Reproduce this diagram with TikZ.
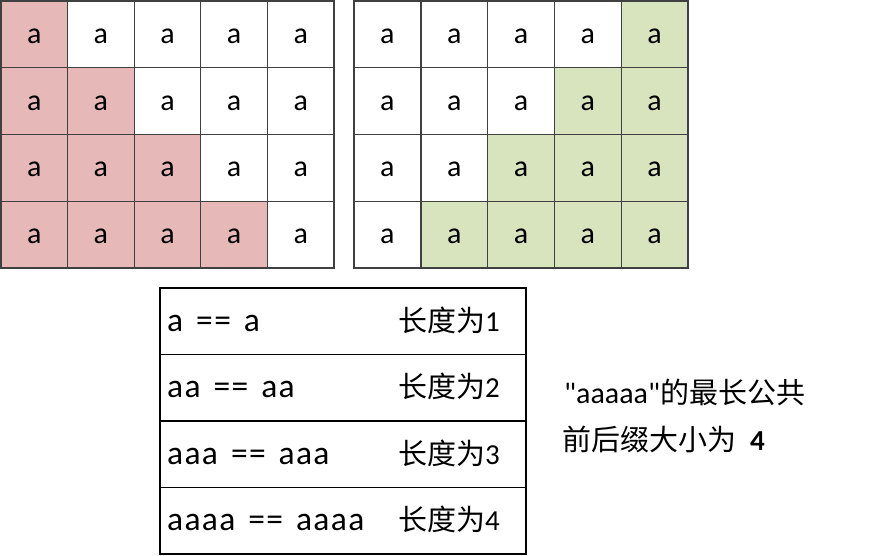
\documentclass[tikz,border=0pt]{standalone}
\usepackage{fontspec}
\setmainfont{Carlito}[Ligatures=TeXOff]
\newfontfamily\widefont{Carlito}[Ligatures=TeXOff, LetterSpace=4]
\newfontfamily\cjk{Noto Sans CJK SC}
\definecolor{pinkc}{HTML}{E6B9B8}
\definecolor{greenc}{HTML}{D7E4BD}
\definecolor{gridc}{HTML}{404040}
\tikzset{
  cell/.style={draw=gridc, line width=1.3pt, minimum width=66.7pt, minimum height=66.75pt, inner sep=0pt},
  celltxt/.style={font=\fontsize{30}{34}\selectfont, inner sep=0pt, anchor=base},
  rowbox/.style={draw=black, line width=1.3pt, minimum width=366pt, minimum height=66.5pt, inner sep=0pt},
  txt/.style={font=\widefont\fontsize{33.5}{36}\selectfont, inner sep=0pt, anchor=base west},
  ctxt/.style={font=\fontsize{29}{34}\selectfont, inner sep=0pt, anchor=base west},
}
\newcommand{\cj}[1]{{\cjk\fontsize{29}{34}\selectfont #1}}
\begin{document}
\begin{tikzpicture}[x=1pt,y=-1pt]
\useasboundingbox (0,0) rectangle (878,555);
% left grid
\foreach \r in {1,...,4}{
  \foreach \c in {1,...,5}{
    \pgfmathtruncatemacro{\pink}{\c<=\r ? 1 : 0}
    \ifnum\pink=1
      \node[cell, fill=pinkc] (L-\r-\c) at ({1+66.6*(\c-0.5)},{1+66.75*(\r-0.5)}) {};
    \else
      \node[cell, fill=white] (L-\r-\c) at ({1+66.6*(\c-0.5)},{1+66.75*(\r-0.5)}) {};
    \fi
    \node[celltxt] (LT-\r-\c) at ([yshift=-9pt]L-\r-\c.center) {a};
  }
}
% right grid
\foreach \r in {1,...,4}{
  \foreach \c in {1,...,5}{
    \pgfmathtruncatemacro{\grn}{\c+\r>=6 ? 1 : 0}
    \ifnum\grn=1
      \node[cell, fill=greenc] (R-\r-\c) at ({354+66.8*(\c-0.5)},{1+66.75*(\r-0.5)}) {};
    \else
      \node[cell, fill=white] (R-\r-\c) at ({354+66.8*(\c-0.5)},{1+66.75*(\r-0.5)}) {};
    \fi
    \node[celltxt] (RT-\r-\c) at ([yshift=-9pt]R-\r-\c.center) {a};
  }
}
% table
\node[rowbox] (T1) at (343,321.25) {};
\node[rowbox] (T2) at (343,387.75) {};
\node[rowbox] (T3) at (343,454.25) {};
\node[rowbox] (T4) at (343,520.75) {};
\node[txt] (A1) at (167,331) {a\hspace{13pt}==\hspace{13pt}a};
\node[txt] (A2) at (167,397.5) {aa\hspace{13pt}==\hspace{13pt}aa};
\node[txt] (A3) at (167,464) {aaa\hspace{13pt}==\hspace{13pt}aaa};
\node[txt] (A4) at (167,530.5) {aaaa\hspace{13pt}==\hspace{13pt}aaaa};
\node[ctxt] (B1) at (398,331) {\cj{长度为}1};
\node[ctxt] (B2) at (398,397.5) {\cj{长度为}2};
\node[ctxt] (B3) at (398,464) {\cj{长度为}3};
\node[ctxt] (B4) at (398,530.5) {\cj{长度为}4};
% note
\node[ctxt, font=\fontsize{30}{34}\selectfont] (N1) at (564,403) {"aaaaa"\cj{的最长公共}};
\node[ctxt] (N2) at (562,450) {\cj{前后缀大小为}\hspace{14pt}\textbf{4}};
\end{tikzpicture}
\end{document}
